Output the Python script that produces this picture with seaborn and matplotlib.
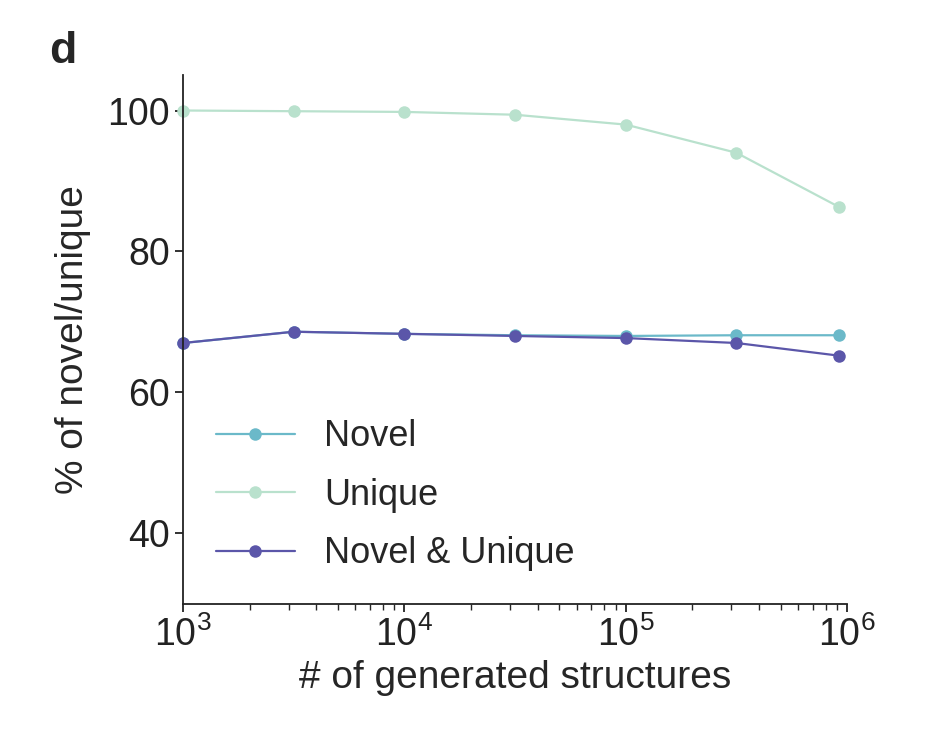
import numpy as np
import pandas as pd
import seaborn as sns
import matplotlib.pyplot as plt

sns.set_theme(style="ticks")
plt.rcParams['font.family'] = ['Arial', 'Liberation Sans', 'DejaVu Sans']

n_structures = [1e3, 3.16e3, 1e4, 3.16e4, 1e5, 3.16e5, 9.2e5]
novel = [67.0, 68.6, 68.3, 68.1, 68.0, 68.1, 68.1]
unique = [100.0, 99.9, 99.8, 99.4, 98.0, 94.0, 86.3]
novel_unique = [67.0, 68.6, 68.3, 68.0, 67.7, 67.0, 65.2]

df = pd.DataFrame({
    "n": n_structures * 3,
    "pct": novel + unique + novel_unique,
    "kind": ["Novel"] * 7 + ["Unique"] * 7 + ["Novel & Unique"] * 7,
})
palette = {"Novel": "#6bb9c9", "Unique": "#b9e1cd", "Novel & Unique": "#5b56a9"}

fig = plt.figure(figsize=(9.34, 7.38), dpi=100)
ax = fig.add_axes([0.196, 0.182, 0.711, 0.716])
sns.lineplot(data=df, x="n", y="pct", hue="kind", palette=palette, marker="o",
             markersize=9, markeredgewidth=0, linewidth=1.6, ax=ax, clip_on=False)
ax.set_xscale("log")
ax.set_xlim(1e3, 1e6)
ax.set_ylim(30, 105)
ax.set_yticks([40, 60, 80, 100])
ax.tick_params(labelsize=27, width=1.3, length=6, colors="#222222")
ax.tick_params(which="minor", width=1, length=4)
ax.set_xlabel("# of generated structures", fontsize=28, labelpad=4)
ax.set_ylabel("% of novel/unique", fontsize=28, labelpad=12)
for s in ["top", "right"]:
    ax.spines[s].set_visible(False)
for s in ["left", "bottom"]:
    ax.spines[s].set_linewidth(1.3)
    ax.spines[s].set_color("#222222")
leg = ax.legend(frameon=False, fontsize=26, loc="lower left", bbox_to_anchor=(0.0, 0.0),
                handlelength=2.2, labelspacing=0.65)
fig.text(0.053, 0.915, "d", fontsize=32, fontweight="bold")
fig.savefig("out.png", dpi=100)
